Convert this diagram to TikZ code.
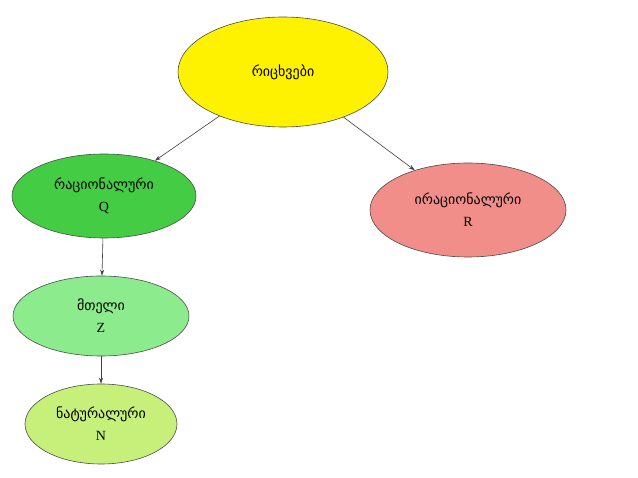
\documentclass[tikz,border=0pt]{standalone}
\usepackage{fontspec}
\newfontfamily\geo{DejaVu Sans}
\setmainfont{Liberation Serif}
\usetikzlibrary{shapes.geometric,arrows.meta}
\definecolor{cY}{HTML}{FFF200}
\definecolor{cQ}{HTML}{44CC44}
\definecolor{cR}{HTML}{F28E8A}
\definecolor{cZ}{HTML}{8CEB8C}
\definecolor{cN}{HTML}{C6F07A}
\begin{document}
\begin{tikzpicture}[x=1pt,y=-1pt,
  blob/.style={ellipse,draw=black!70,line width=0.6pt,inner sep=0pt,align=center,font=\fontsize{14}{22}\selectfont},
  link/.style={-{Stealth[length=6pt,width=4pt]},black!75,line width=0.6pt}]
\useasboundingbox[fill=white] (0,0) rectangle (638,478);
\node[blob,fill=cY,minimum width=210pt,minimum height=110pt] (r) at (283,72) {\geo რიცხვები};
\node[blob,fill=cQ,minimum width=184pt,minimum height=84pt] (q) at (104,196) {\geo რაციონალური\\Q};
\node[blob,fill=cR,minimum width=196pt,minimum height=94pt] (i) at (468,210) {\geo ირაციონალური\\R};
\node[blob,fill=cZ,minimum width=176pt,minimum height=80pt] (z) at (101,316) {\geo მთელი\\Z};
\node[blob,fill=cN,minimum width=152pt,minimum height=80pt] (n) at (101,424) {\geo ნატურალური\\N};
\draw[link] (r) -- (q);
\draw[link] (r) -- (i);
\draw[link] (q) -- (z);
\draw[link] (z) -- (n);
\end{tikzpicture}
\end{document}
